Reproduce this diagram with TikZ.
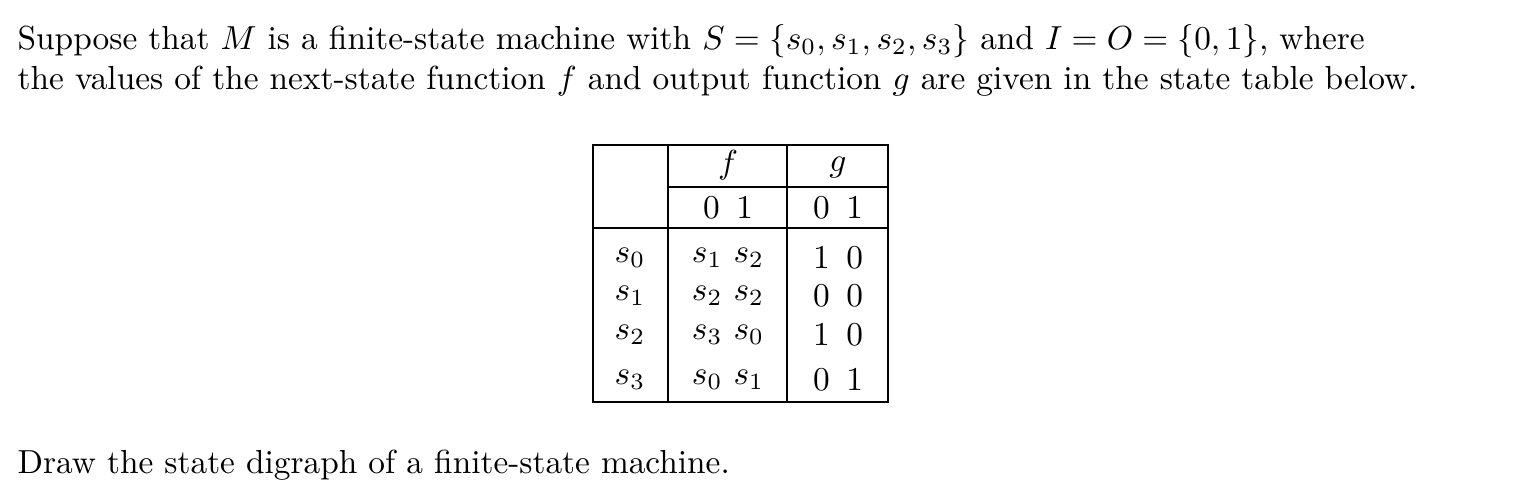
\documentclass[tikz,border=0pt]{standalone}
\begin{document}
\begin{tikzpicture}[x=0.3pt,y=-0.3pt,
  txt/.style={anchor=base west,inner sep=0pt,font=\fontsize{10}{12}\selectfont},
  cell/.style={inner sep=0pt,font=\fontsize{10}{12}\selectfont},
  rule/.style={line width=0.4pt}]
\useasboundingbox (0,0) rectangle (1540,500);
\node[txt] (l1) at (17,50) {Suppose that $M$ is a finite-state machine with $S=\{s_0,s_1,s_2,s_3\}$ and $I=O=\{0,1\}$, where};
\node[txt] (l2) at (17,90) {the values of the next-state function $f$ and output function $g$ are given in the state table below.};
\node[txt] (l3) at (17,473) {Draw the state digraph of a finite-state machine.};
% table rules
\draw[rule] (593,145) rectangle (888,402);
\draw[rule] (668,145) -- (668,402);
\draw[rule] (787,145) -- (787,402);
\draw[rule] (668,187) -- (888,187);
\draw[rule] (593,228) -- (888,228);
% header
\node[cell] (hf) at (728,165) {$f$};
\node[cell] (hg) at (838,168) {$g$};
\node[cell] (hf01) at (728,208) {$0\ \,1$};
\node[cell] (hg01) at (838,208) {$0\ \,1$};
% rows
\foreach \y/\s/\f/\g [count=\i] in {258/s_0/s_1\ s_2/1\ \,0, 296/s_1/s_2\ s_2/0\ \,0, 335/s_2/s_3\ s_0/1\ \,0, 380/s_3/s_0\ s_1/0\ \,1}{
  \node[cell] (st\i) at (630,\y) {$\s$};
  \node[cell] (fv\i) at (728,\y) {$\f$};
  \node[cell] (gv\i) at (838,\y) {$\g$};
}
\end{tikzpicture}
\end{document}
